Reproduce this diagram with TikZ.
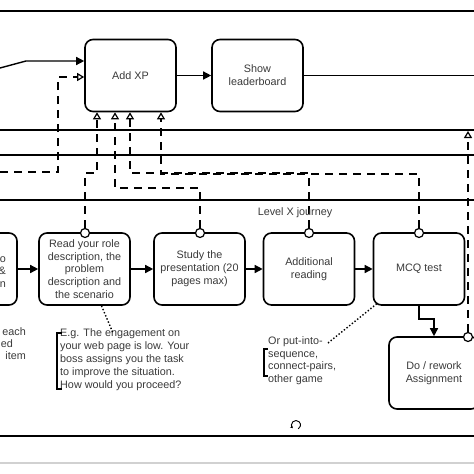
\documentclass[tikz,border=0pt]{standalone}
\usepackage{fontspec}
\setmainfont{Liberation Sans}
\usetikzlibrary{arrows.meta,calc}
\definecolor{txt}{HTML}{3A3A3A}
\begin{document}
\begin{tikzpicture}[x=1pt,y=-1pt,
  task/.style={draw=black,line width=1.6pt,rounded corners=8pt,minimum width=91pt,minimum height=72pt,inner sep=1pt,align=center,text=txt,font=\fontsize{10.8}{12.8}\selectfont},
  lbl/.style={text=txt,font=\fontsize{10.8}{12.8}\selectfont,inner sep=0pt},
  flow/.style={line width=1.4pt,-{Triangle[length=8pt,width=8pt]}},
  msg/.style={line width=1.2pt,dash pattern=on 8pt off 6pt,-{Triangle[open,length=7pt,width=8pt,line width=1.2pt]}},
  lane/.style={line width=1.5pt},
  bev/.style={circle,draw=black,fill=white,line width=1.2pt,minimum size=9pt,inner sep=0pt},
  assoc/.style={line width=1.4pt,dotted},
  brk/.style={line width=1.3pt},
]
\useasboundingbox (0,0) rectangle (474,474);
\clip (0,0) rectangle (474,474);
\fill[white] (0,0) rectangle (474,474);

% lane lines
\draw[lane] (0,11) -- (474,11);
\draw[lane] (0,130) -- (474,130);
\draw[lane] (0,155) -- (474,155);
\draw[lane] (0,200) -- (474,200);
\draw[lane] (0,436) -- (474,436);
\draw[line width=1.5pt,black!18] (0,463) -- (474,463);

% top tasks
\node[task] (addxp) at (130.5,75.5) {Add XP};
\node[task] (show) at (257.5,75.5) {Show\\leaderboard};

% bottom tasks
\node[task] (leftbox) at (-28.5,269) {};
\node[task] (read) at (84.5,269) {Read your role\\description, the\\problem\\description and\\the scenario};
\node[task] (study) at (199.5,269) {Study the\\presentation (20\\pages max)};
\node[task] (addl) at (309,269) {Additional\\reading};
\node[task] (mcq) at (419,269) {MCQ test};
\node[task,minimum width=90pt] (dorework) at (434,373) {Do / rework\\Assignment};

% fragments of the cut-off left task
\node[lbl,align=right,anchor=east] (lefttxt) at (6,272) {o\\\&\\n};

% boundary events
\node[bev] (bread) at (85,233) {};
\node[bev] (bstudy) at (200,233) {};
\node[bev] (baddl) at (309,233) {};
\node[bev] (bmcq) at (419,233) {};
\node[bev] (bdo) at (468,337) {};

% sequence flows
\coordinate (in0) at (0,68);
\coordinate (in1) at (26,61);
\draw[flow] (in0) -- (in1) -- (in1 -| addxp.west);
\draw[flow] (addxp.east) -- (show.west);
\coordinate (out) at (474,75.5);
\draw[line width=1.4pt] (show.east) -- (out);

\draw[flow] (leftbox.east) -- (read.west);
\draw[flow] (read.east) -- (study.west);
\draw[flow] (study.east) -- (addl.west);
\draw[flow] (addl.east) -- (mcq.west);
\coordinate (m1) at (419,319);
\coordinate (m2) at (434,319);
\draw[flow] (mcq.south -| m1) -- (m1) -- (m2) -- (dorework.north -| m2);

% message flows
\coordinate (a1) at (97,173);
\draw[msg] (bread.north) |- (a1) -- (a1 |- addxp.south);
\coordinate (b1) at (115,188);
\draw[msg] (bstudy.north) |- (b1) -- (b1 |- addxp.south);
\coordinate (c1) at (130,173);
\draw[msg] (baddl.north) |- (c1) -- (c1 |- addxp.south);
\coordinate (d1) at (161,174);
\draw[msg] (bmcq.north) |- (d1) -- (d1 |- addxp.south);
\coordinate (e0) at (0,172);
\coordinate (e1) at (58,172);
\coordinate (e2) at (58,77);
\draw[msg] (e0) -- (e1) -- (e2) -- (e2 -| addxp.west);
\coordinate (f1) at (468,131);
\draw[msg] (bdo.north) -- (f1);

% labels
\node[lbl] (level) at (295,213) {Level X journey};
\node[lbl,anchor=east] (t1) at (26,332) {each};
\node[lbl,anchor=east] (t2) at (13,344) {ed};
\node[lbl,anchor=east] (t3) at (26,356) {item};

% annotation 1
\node[lbl,align=left,anchor=north west,font=\fontsize{10.8}{12.9}\selectfont] (ann1) at (60,328.5) {E.g. The engagement on\\your web page is low. Your\\boss assigns you the task\\to improve the situation.\\How would you proceed?};
\draw[brk] (62,333) -- (57,333) -- (57,389) -- (62,389);
\coordinate (ann1p) at (113,333);
\draw[assoc] ($(read.south)+(17,0)$) -- (ann1p);

% annotation 2
\node[lbl,align=left,anchor=north west,font=\fontsize{10.8}{12.7}\selectfont] (ann2) at (268,336.5) {Or put-into-\\sequence,\\connect-pairs,\\other game};
\draw[brk] (268,349) -- (264,349) -- (264,376) -- (268,376);
\coordinate (ann2p) at (328,343);
\draw[assoc] (ann2p) -- ($(mcq.south west)+(4,-2)$);

% loop marker
\coordinate (loopc) at (296,425);
\draw[line width=0.9pt,{Stealth[length=2.5pt,width=3pt]}-] ($(loopc)+(135:4.5)$) arc[start angle=135,end angle=420,radius=4.5];
\end{tikzpicture}
\end{document}
